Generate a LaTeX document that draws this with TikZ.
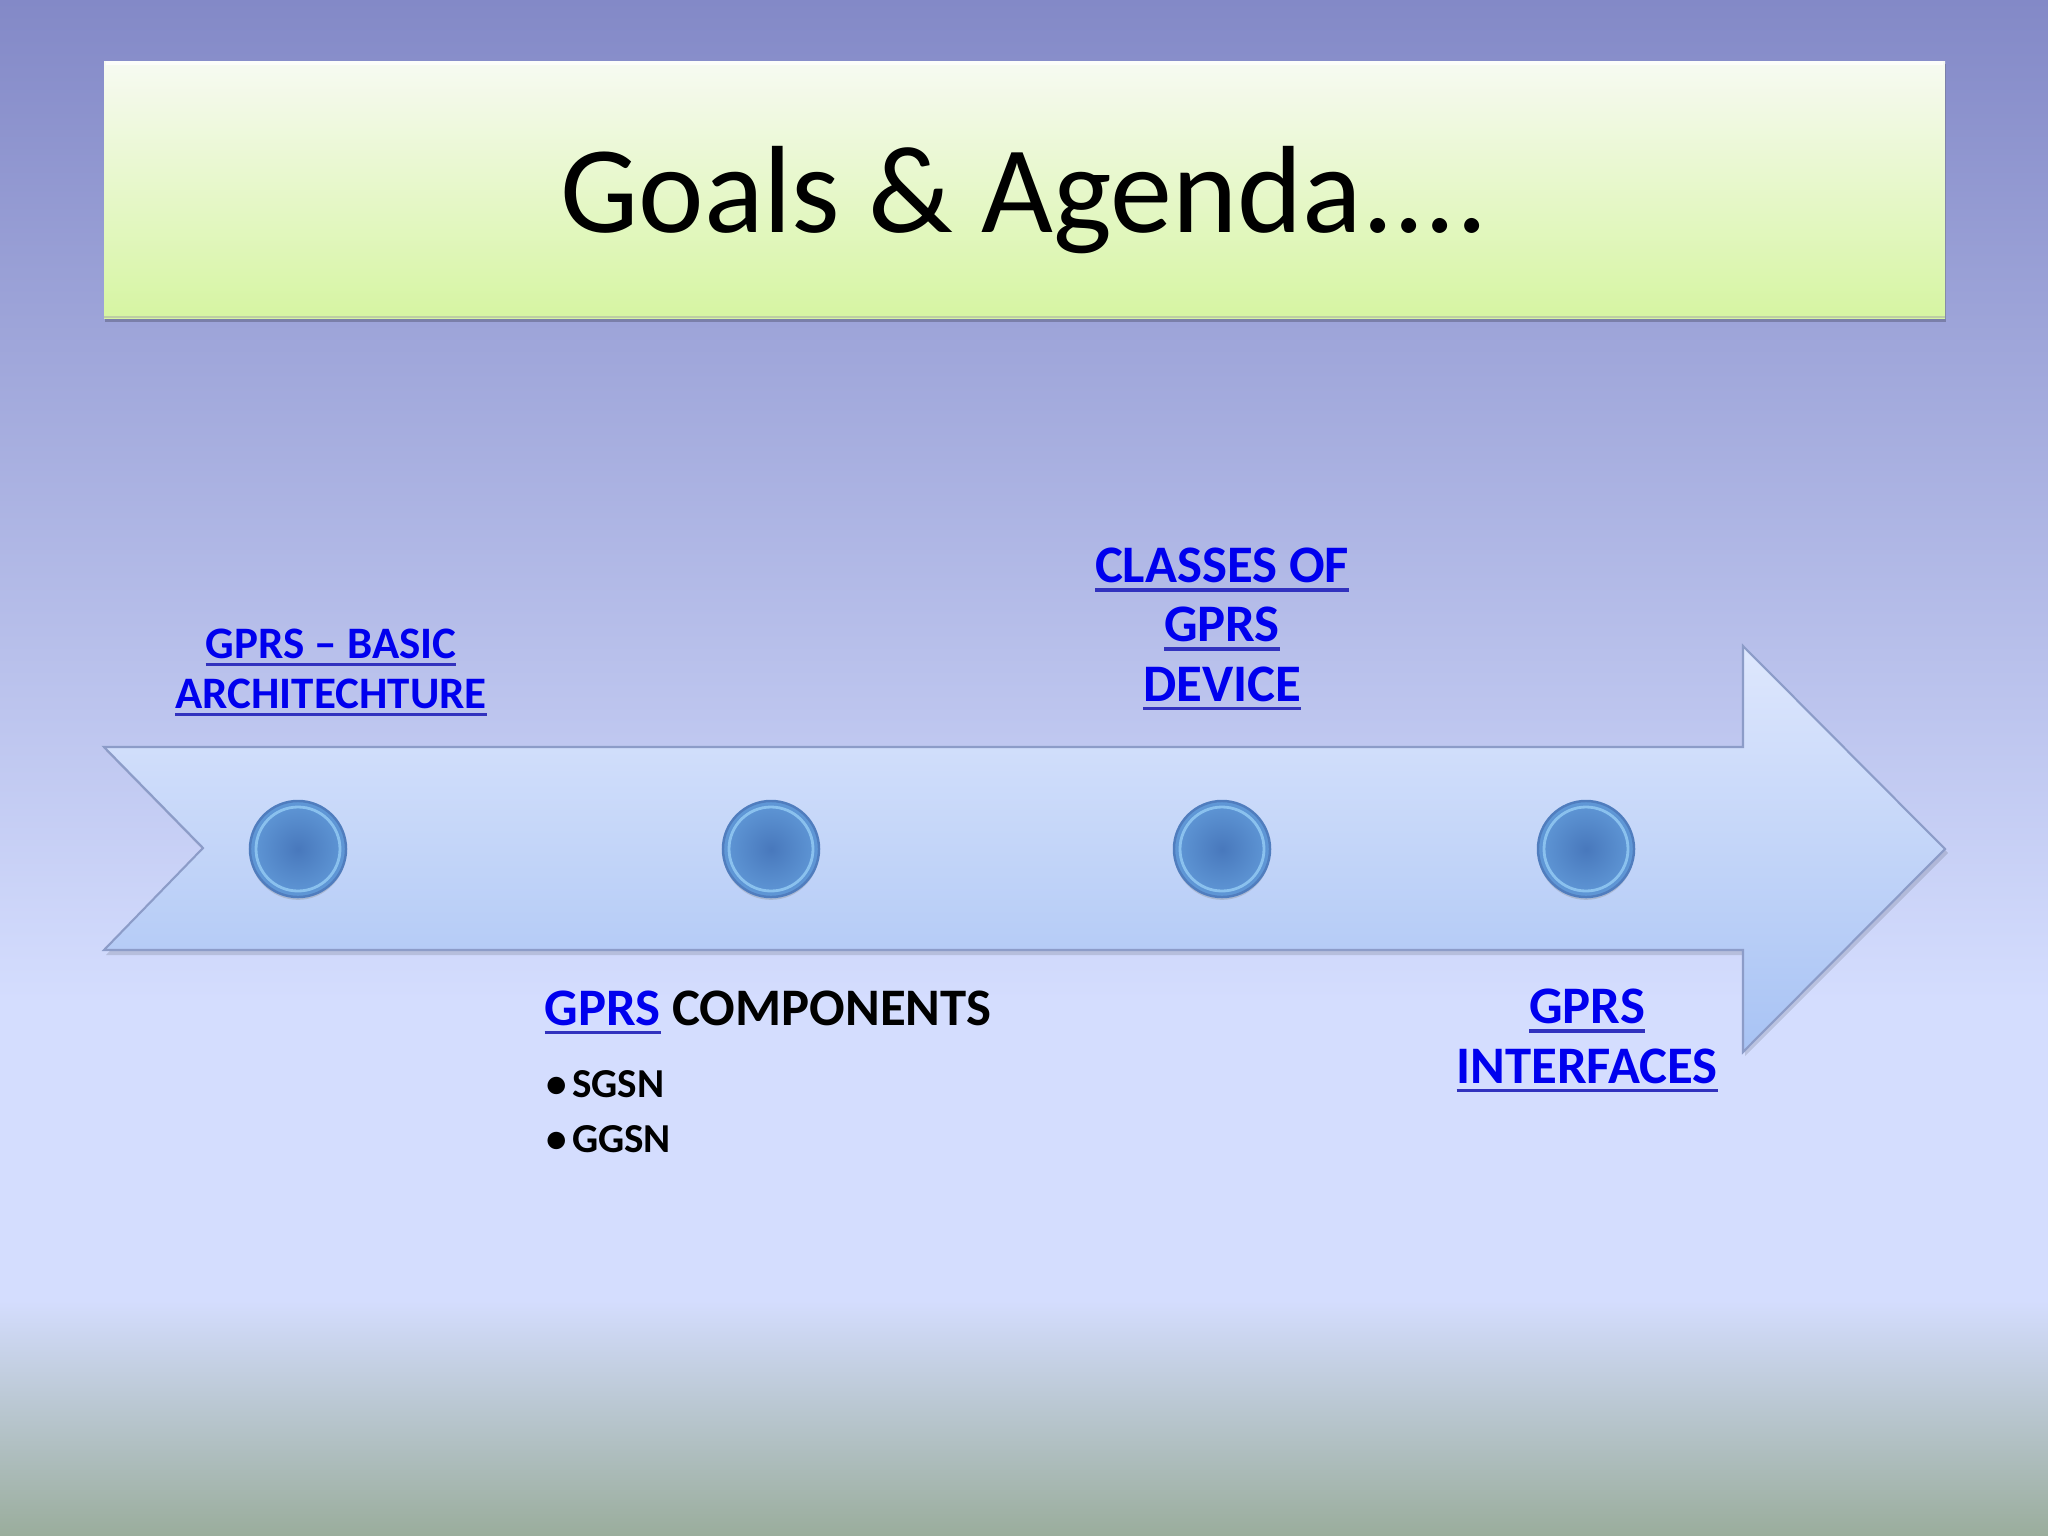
\documentclass[tikz,border=0pt]{standalone}
\usepackage{fontspec}
\setmainfont{Carlito}
\usetikzlibrary{shadows}
\definecolor{bgtop}{RGB}{131,137,199}
\definecolor{bgmid}{RGB}{212,221,254}
\definecolor{bgbot}{RGB}{154,173,156}
\definecolor{titletop}{RGB}{247,250,242}
\definecolor{titlebot}{RGB}{214,245,162}
\definecolor{arrtop}{RGB}{222,231,253}
\definecolor{arrbot}{RGB}{168,195,244}
\definecolor{arredge}{RGB}{140,156,200}
\definecolor{linkblue}{RGB}{0,0,238}
\definecolor{ulblue}{RGB}{50,50,190}
\definecolor{dotin}{RGB}{72,120,188}
\definecolor{dotout}{RGB}{96,152,215}
\definecolor{dotrim}{RGB}{150,205,245}
\definecolor{dotedge}{RGB}{80,125,190}
\newsavebox{\ulbox}
\newcommand{\ulink}[1]{\sbox{\ulbox}{#1}\rlap{\color{ulblue}\rule[-0.17em]{\wd\ulbox}{0.065em}}\usebox{\ulbox}}
\tikzset{
  linklabel/.style={font=\bfseries, text=linkblue, align=center, anchor=base, inner sep=0pt},
  plainlabel/.style={font=\bfseries, text=black, anchor=base west, inner sep=0pt},
  dotstyle/.style={circle, minimum size=0.96cm, inner sep=0pt, draw=dotedge, line width=0.7pt,
     inner color=dotin, outer color=dotout,
     drop shadow={shadow xshift=0pt, shadow yshift=-0.8pt, opacity=0.3}},
}
\begin{document}
\begin{tikzpicture}[x=0.01cm,y=-0.01cm]
\useasboundingbox (0,0) rectangle (2048,1536);
% background
\shade[top color=bgtop, bottom color=bgmid] (0,0) rectangle (2048,1000);
\fill[bgmid] (0,999) rectangle (2048,1301);
\shade[top color=bgmid, bottom color=bgbot] (0,1300) rectangle (2048,1536);
% title box
\fill[black, opacity=0.22] (105,64) rectangle (1946,322);
\shade[top color=titletop, bottom color=titlebot] (104,61) rectangle (1945,318);
\draw[white, opacity=0.7, line width=0.9pt] (106,63) -- (1943,63);
\draw[black!35, opacity=0.5, line width=0.5pt] (104,317) -- (1945,317);
\node[font=\fontsize{35.3}{40}\selectfont, anchor=base, inner sep=0pt] (title) at (1024,232) {Goals \& Agenda....};
% arrow
\fill[black, opacity=0.12] (106,751) -- (1745,751) -- (1745,650) -- (1948,853) -- (1745,1056) -- (1745,955) -- (106,955) -- (205,852) -- cycle;
\shade[top color=arrtop, bottom color=arrbot, draw=arredge, line width=0.6pt]
  (104,747) -- (1743,747) -- (1743,646) -- (1945,849) -- (1743,1052) -- (1743,950) -- (104,950) -- (203,848) -- cycle;
% dots
\foreach \nm/\xx in {d1/298, d2/771, d3/1222, d4/1586}{
  \node[dotstyle] (\nm) at (\xx,849) {};
  \draw[dotrim, line width=0.8pt, opacity=0.8] (\xx,849) circle (42);
}
% labels
\node[linklabel, font=\bfseries\fontsize{12.8}{14.2}\selectfont] (lab1) at (331,708)
  {\ulink{GPRS – BASIC}\\\ulink{ARCHITECHTURE}};
\node[linklabel, font=\bfseries\fontsize{15}{16.8}\selectfont] (lab3) at (1222,701)
  {\ulink{CLASSES OF}\\\ulink{GPRS}\\\ulink{DEVICE}};
\node[linklabel, font=\bfseries\fontsize{15}{16.8}\selectfont] (lab4) at (1587,1083)
  {\ulink{GPRS}\\\ulink{INTERFACES}};
\node[plainlabel, font=\bfseries\fontsize{15}{17}\selectfont] (lab2) at (544,1025)
  {\textcolor{linkblue}{\ulink{GPRS}} COMPONENTS};
\node[plainlabel, font=\bfseries\fontsize{11.7}{13}\selectfont] (b1) at (546,1097) {•\hspace{0.12em}SGSN};
\node[plainlabel, font=\bfseries\fontsize{11.7}{13}\selectfont] (b2) at (546,1152) {•\hspace{0.12em}GGSN};
\end{tikzpicture}
\end{document}
